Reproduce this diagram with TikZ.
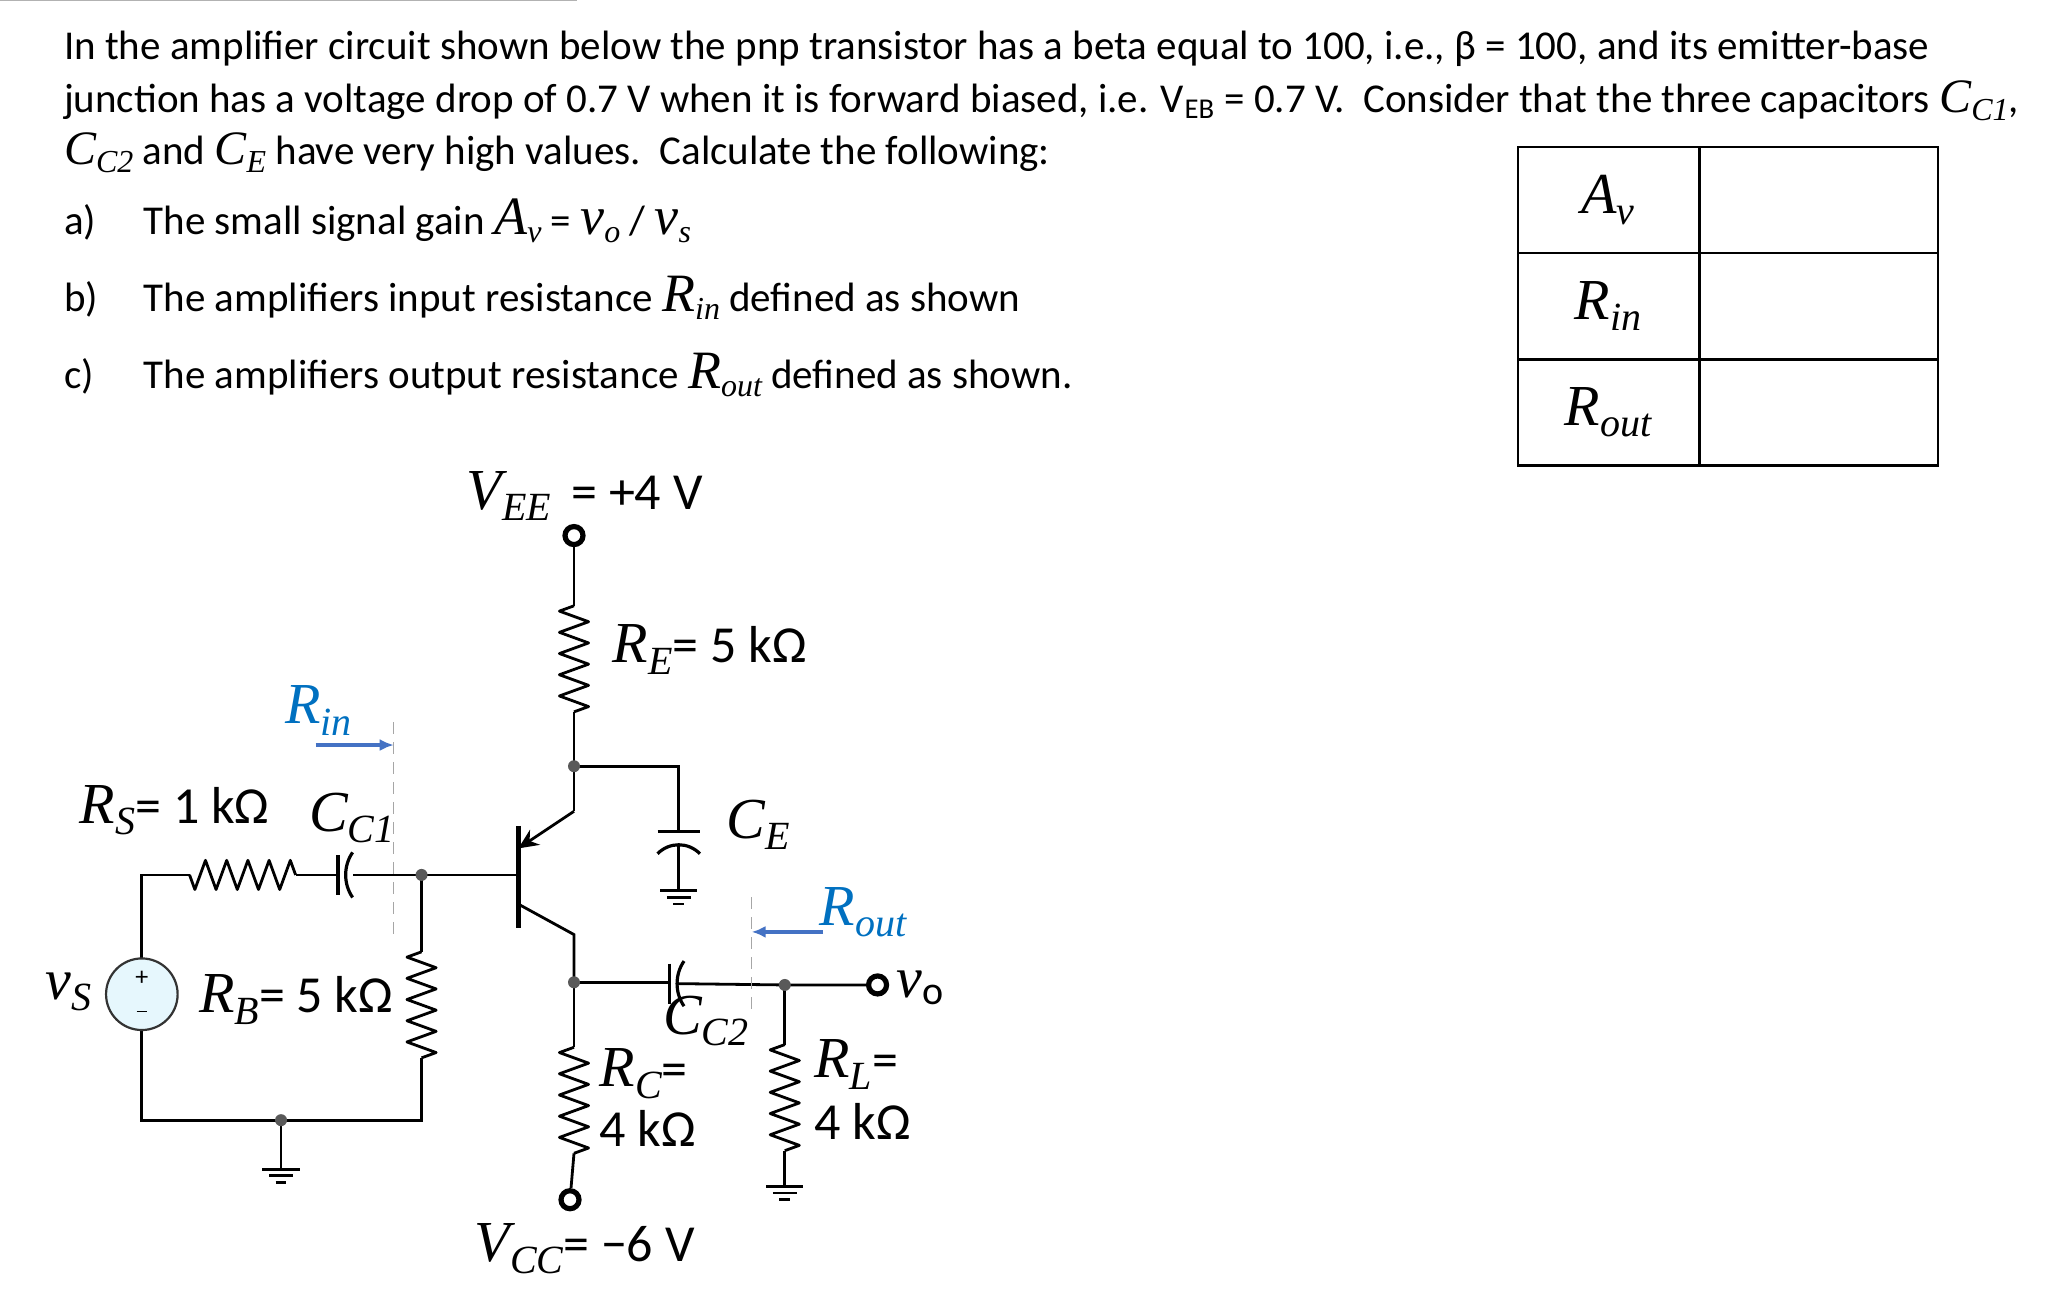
\documentclass[tikz,border=0pt]{standalone}
\usepackage{fontspec}
\setmainfont{Carlito}
\newfontfamily\tms{Liberation Serif}
\usetikzlibrary{arrows.meta}
\definecolor{tblue}{RGB}{0,112,192}
\definecolor{ablue}{RGB}{68,114,196}
\newcommand{\mi}[1]{{\tms\itshape #1}}
\newcommand{\sub}[1]{\raisebox{-0.4ex}{\fontsize{16}{16}\selectfont\tms\itshape #1}}
\newcommand{\bigi}[1]{{\tms\itshape\fontsize{29}{29}\selectfont #1}}
\newcommand{\lsub}[1]{\raisebox{-0.45ex}{\tms\itshape\fontsize{20}{20}\selectfont #1}}
\begin{document}
\begin{tikzpicture}[x=0.6628pt,y=-0.6628pt,
  txt/.style={anchor=base west,inner sep=0pt,font=\fontsize{20.5}{22}\selectfont},
  lab/.style={inner sep=0pt,font=\fontsize{26}{28}\selectfont},
  wire/.style={line width=1.4pt},
  dot/.style={circle,fill=gray!70!black,inner sep=0pt,minimum size=6pt},
  term/.style={circle,draw,line width=2.6pt,fill=white,inner sep=0pt,minimum size=9pt},
  dashln/.style={gray!70,line width=0.6pt,dash pattern=on 6pt off 4pt},
  arr/.style={ablue,line width=2pt,-{Latex[length=7pt,width=6pt]}},
  zz/.pic={\draw[line width=1.4pt,line join=round] (0,0) -- ++(4,11) -- ++(8,-22) -- ++(8,22) -- ++(8,-22) -- ++(8,22) -- ++(8,-22) -- ++(8,22) -- ++(8,-22) -- ++(8,22) -- ++(8,-22) -- ++(4,11);},
  gnd/.pic={\draw[line width=1.4pt] (-14,0)--(14,0) (-9,5)--(9,5) (-4,10)--(4,10);}]
\useasboundingbox (0,0) rectangle (1560,980);
\draw[gray!60,line width=0.8pt] (0,0)--(435,0);
% text
\node[txt] (l1) at (48,45) {In the amplifier circuit shown below the pnp transistor has a beta equal to 100, i.e., β = 100, and its emitter-base};
\node[txt] (l2) at (48,85) {junction has a voltage drop of 0.7 V when it is forward biased, i.e. V\textsubscript{EB} = 0.7 V.\ \ Consider that the three capacitors \mi{\fontsize{24}{24}\selectfont C}\sub{C1},};
\node[txt] (l3) at (48,124) {\mi{\fontsize{24}{24}\selectfont C}\sub{C2} and \mi{\fontsize{24}{24}\selectfont C}\sub{E} have very high values.\ \ Calculate the following:};
\node[txt] (la) at (48,177) {a)};
\node[txt] (ta) at (108,177) {The small signal gain \mi{\fontsize{27}{27}\selectfont A}\sub{v} = \mi{\fontsize{27}{27}\selectfont v}\sub{o} / \mi{\fontsize{27}{27}\selectfont v}\sub{s}};
\node[txt] (lb) at (48,235) {b)};
\node[txt] (tb) at (108,235) {The amplifiers input resistance \mi{\fontsize{27}{27}\selectfont R}\sub{in} defined as shown};
\node[txt] (lc) at (48,293) {c)};
\node[txt] (tc) at (108,293) {The amplifiers output resistance \mi{\fontsize{27}{27}\selectfont R}\sub{out} defined as shown.};
% table
\draw[line width=1.3pt] (1145,111) rectangle (1462,351);
\draw[line width=1.3pt] (1282,111)--(1282,351) (1145,191)--(1462,191) (1145,271)--(1462,271);
\node[lab] (tA) at (1213,151) {\bigi{A}\lsub{v}};
\node[lab] (tR) at (1213,231) {\bigi{R}\lsub{in}};
\node[lab] (tO) at (1213,311) {\bigi{R}\lsub{out}};
% coordinates
\coordinate (vee) at (433,404);
\coordinate (reT) at (433,457);
\coordinate (reB) at (433,537);
\coordinate (en) at (433,578);
\coordinate (ceT) at (512,578);
\coordinate (eb) at (433,612);
\coordinate (be) at (391,640);
\coordinate (bc) at (391,682);
\coordinate (cb) at (433,705);
\coordinate (cn) at (433,741);
\coordinate (rcT) at (433,790);
\coordinate (rcB) at (433,870);
\coordinate (vcc) at (430,905);
\coordinate (bb) at (391,660);
\coordinate (bn) at (318,660);
\coordinate (lcor) at (107,660);
\coordinate (rsL) at (143,660);
\coordinate (rsR) at (223,660);
\coordinate (src) at (107,750);
\coordinate (lbot) at (107,845);
\coordinate (gn) at (212,845);
\coordinate (rb) at (318,845);
\coordinate (rbT) at (318,718);
\coordinate (rbB) at (318,798);
\coordinate (on) at (592,743);
\coordinate (rlT) at (592,788);
\coordinate (rlB) at (592,868);
\node[term] (tv) at (vee) {};
\node[term] (tc2) at (vcc) {};
\node[term] (to) at (662,743) {};
% emitter branch
\draw[wire] (tv)--(reT);
\pic[rotate=-90] at (reT) {zz};
\draw[wire] (reB)--(en)--(eb);
\draw[wire,-{Stealth[length=10pt,width=9pt]}] (eb)--(be);
\draw[line width=2.2pt] (391,623)--(391,700);
\draw[wire] (bc)--(cb)--(cn);
\draw[wire] (cn)--(rcT);
\pic[rotate=-90] at (rcT) {zz};
\draw[wire] (rcB)--(tc2);
% CE
\draw[wire] (en)--(ceT)--(512,627);
\draw[line width=1.6pt] (496,627)--(528,627);
\draw[line width=1.6pt] (496,644) .. controls (505,635) and (519,635) .. (528,644);
\draw[wire] (512,637)--(512,672);
\pic at (512,672) {gnd};
% base side
\draw[wire] (bb)--(bn)--(266,660);
\draw[line width=1.6pt] (255,645)--(255,675);
\draw[line width=1.6pt] (266,643) .. controls (259,653) and (259,667) .. (266,677);
\draw[wire] (255,660)--(rsR);
\pic at (rsL) {zz};
\draw[wire] (rsL)--(lcor)--(107,723);
\draw[wire] (107,777)--(lbot)--(rb)--(rbB);
\pic[rotate=-90] at (rbT) {zz};
\draw[wire] (rbT)--(bn);
\draw[wire] (gn)--(212,882);
\pic at (212,882) {gnd};
\node[circle,draw=black!80,line width=1.1pt,fill=cyan!10,minimum size=54pt*0.6628,inner sep=0pt] (vs) at (src) {};
\node[inner sep=0pt,font=\fontsize{13}{13}\selectfont] (vp) at (107,738) {+};
\draw[line width=0.9pt] (103,763)--(111,763);
% collector output
\draw[wire] (cn)--(505,741);
\draw[line width=1.6pt] (505,727)--(505,757);
\draw[line width=1.6pt] (516,725) .. controls (509,735) and (509,749) .. (516,759);
\draw[wire] (511,742)--(on)--(to);
\draw[wire] (on)--(rlT);
\pic[rotate=-90] at (rlT) {zz};
\draw[wire] (rlB)--(592,895);
\pic at (592,895) {gnd};
\node[dot] (d1) at (en) {};
\node[dot] (d2) at (cn) {};
\node[dot] (d3) at (bn) {};
\node[dot] (d4) at (on) {};
\node[dot] (d5) at (gn) {};
% dashed and arrows
\draw[dashln] (297,545)--(297,705);
\draw[dashln] (567,677)--(567,765);
\coordinate (ra1) at (238,562); \coordinate (ra2) at (297,562);
\draw[arr] (ra1)--(ra2);
\coordinate (ro1) at (621,703); \coordinate (ro2) at (567,703);
\draw[arr] (ro1)--(ro2);
% labels
\node[lab] (Lvee) at (441,374) {\bigi{V}\lsub{EE}\, = +4 V};
\node[lab,anchor=west] (Lre) at (462,490) {\bigi{R}\lsub{E}= 5 kΩ};
\node[lab,anchor=west] (Lce) at (548,622) {\bigi{C}\lsub{E}};
\node[lab,anchor=west,text=tblue] (Lrin) at (215,536) {\bigi{R}\lsub{in}};
\node[lab,anchor=west,text=tblue] (Lrout) at (618,688) {\bigi{R}\lsub{out}};
\node[lab,anchor=west] (Lrs) at (60,611) {\bigi{R}\lsub{S}= 1 kΩ};
\node[lab,anchor=west] (Lcc1) at (233,617) {\bigi{C}\lsub{C1}};
\node[lab,anchor=west] (Lvs) at (34,748) {\bigi{v}\lsub{S}};
\node[lab,anchor=west] (Lrb) at (150,754) {\bigi{R}\lsub{B}= 5 kΩ};
\node[lab,anchor=west] (Lcc2) at (500,770) {\bigi{C}\lsub{C2}};
\node[lab,anchor=west] (Lrc) at (452,810) {\bigi{R}\lsub{C}=};
\node[lab,anchor=west] (Lrc2) at (452,851) {4 kΩ};
\node[lab,anchor=west] (Lrl) at (614,803) {\bigi{R}\lsub{L}=};
\node[lab,anchor=west] (Lrl2) at (614,846) {4 kΩ};
\node[lab,anchor=west] (Lvo) at (676,745) {\bigi{v}\raisebox{-0.3ex}{\fontsize{20}{20}\selectfont o}};
\node[lab] (Lvcc) at (441,942) {\bigi{V}\lsub{CC}= −6 V};
\end{tikzpicture}
\end{document}
